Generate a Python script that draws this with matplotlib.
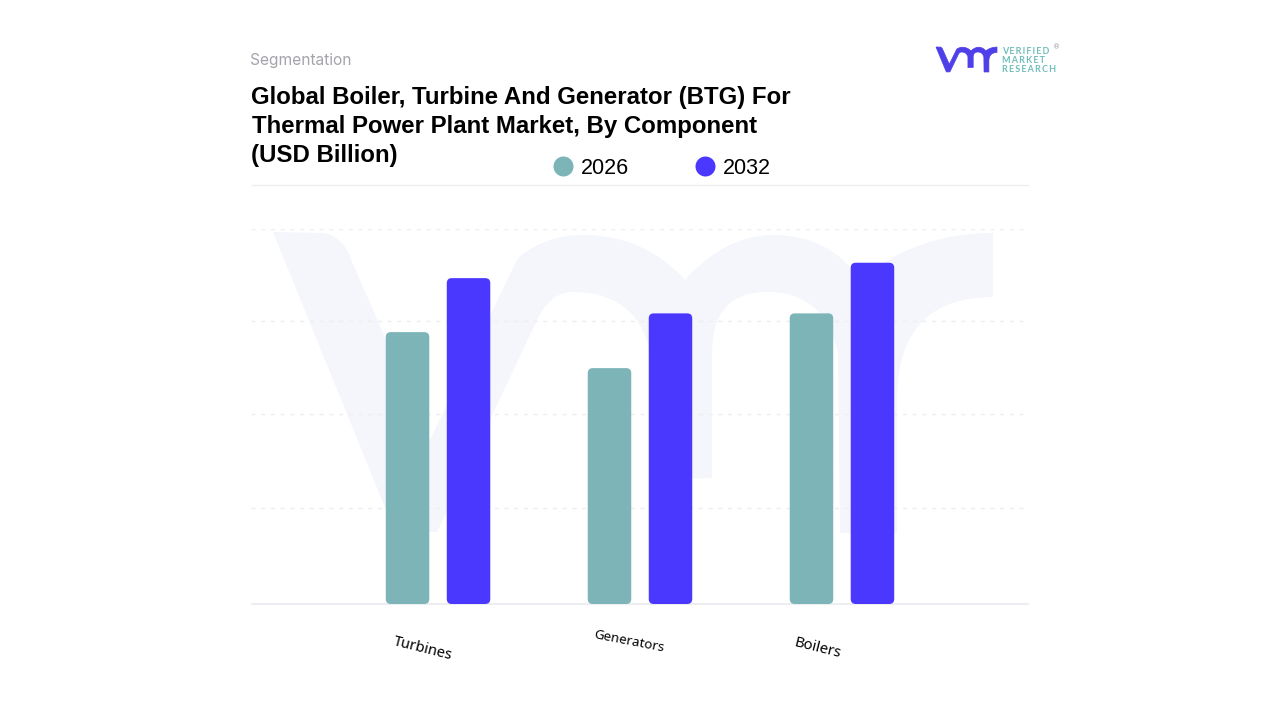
import matplotlib
matplotlib.use('Agg')
import matplotlib.pyplot as plt
from matplotlib.lines import Line2D
from matplotlib.patches import FancyBboxPatch, PathPatch
from matplotlib.path import Path
from matplotlib.transforms import Affine2D

# values (no y labels in the original, so units are arbitrary)
categories = ['Turbines', 'Generators', 'Boilers']
years = ['2026', '2032']
values_2026 = [7.25, 6.29, 7.75]
values_2032 = [8.69, 7.75, 9.10]
grid_levels = [2.56, 5.07, 7.55, 10]

title_lines = ['Global Boiler, Turbine And Generator (BTG) For',
               'Thermal Power Plant Market, By Component',
               '(USD Billion)']
logo_lines = ['VERIFIED', 'MARKET', 'RESEARCH']

TEAL = '#7cb4b8'
BLUE = '#4a38ff'
W, H = 1280, 720

fig = plt.figure(figsize=(12.8, 7.2), dpi=100, facecolor='white')

# background layer in pixel coords: logo + watermark
bg = fig.add_axes([0, 0, 1, 1], zorder=0)
bg.set_xlim(0, W)
bg.set_ylim(H, 0)
bg.axis('off')

M, L, C3 = Path.MOVETO, Path.LINETO, Path.CURVE3
vmr_steps = [
    (M, 273, 232), (L, 325, 233), (C3, 345, 238), (C3, 352, 262),
    (L, 430, 440), (L, 518, 258), (C3, 545, 235), (C3, 583, 235),
    (C3, 645, 235), (C3, 685, 280), (C3, 725, 235), (C3, 773, 235),
    (C3, 830, 235), (C3, 860, 280), (C3, 915, 233), (C3, 993, 233),
    (L, 993, 297), (C3, 897, 297), (C3, 897, 400), (L, 897, 533),
    (L, 840, 533), (L, 838, 353), (C3, 825, 292), (C3, 767, 292),
    (C3, 712, 292), (C3, 712, 353), (L, 712, 478), (L, 650, 480),
    (L, 650, 350), (C3, 635, 292), (C3, 573, 292), (C3, 550, 292),
    (C3, 537, 320), (L, 437, 532), (L, 395, 532), (L, 273, 232),
]
vmr_path = Path([(x, y) for _, x, y in vmr_steps], [c for c, _, _ in vmr_steps])
bg.add_patch(PathPatch(vmr_path, facecolor='#f4f6fc', edgecolor='none'))

# same shape, small, for the logo
logo_tf = Affine2D().translate(-273, -232).scale(61 / 720, 25 / 301).translate(936, 47)
bg.add_patch(PathPatch(vmr_path.transformed(logo_tf), facecolor='#4f3fe8', edgecolor='#4f3fe8', lw=0.5))

for txt, y in zip(logo_lines, [52, 60.5, 69]):
    bg.text(1002, y, '\u2009'.join(txt), color='#6fbdb9', fontsize=6.5, family='Lato',
            fontweight='bold', va='center', ha='left')
bg.text(1057, 47.5, '®', color='#8f9aa0', fontsize=5, va='center', ha='center')

bg.text(250, 60, 'Segmentation', color='#a3a3ab', fontsize=11.2, family='Inter', va='center')
for txt, x, y in zip(title_lines, [251, 252, 251], [104, 133, 162]):
    bg.text(x, y, txt, color='black', fontsize=17.3, family='Liberation Sans',
            fontweight='bold', va='baseline')
bg.plot([251, 1029], [185, 185], color='#eeeeee', lw=1, solid_capstyle='butt')

# chart
ax = fig.add_axes([251 / W, 1 - 604 / H, 778 / W, 375 / H], zorder=1)
ax.patch.set_alpha(0)
ax.set_xlim(-0.926, 2.926)
ax.set_ylim(0, 10)
for s in ax.spines.values():
    s.set_visible(False)
ax.tick_params(length=0, labelleft=False, labelbottom=False)
ax.set_yticks(grid_levels)
ax.grid(axis='y', color='#eeeef0', linestyle=(0, (3, 4)), lw=1)
ax.set_axisbelow(True)
ax.axhline(0, color='#eceef1', lw=1.5, clip_on=False, zorder=1, solid_capstyle='butt')

# bars first, then swap them for rounded patches of the same geometry
bar_w = 43.5 / 202
offset = 30.5 / 202
xs = range(len(categories))
bars_a = ax.bar([x - offset for x in xs], values_2026, bar_w, color=TEAL)
bars_b = ax.bar([x + offset for x in xs], values_2032, bar_w, color=BLUE)

radius = 5 / 202           # 5 px in x units
aspect = (10 / 375) / (1 / 202)
for bars in (bars_a, bars_b):
    for b in bars:
        b.set_visible(False)
        ax.add_patch(FancyBboxPatch((b.get_x(), b.get_y()), b.get_width(), b.get_height(),
                                    boxstyle=f'round,pad=0,rounding_size={radius}',
                                    mutation_aspect=aspect,
                                    facecolor=b.get_facecolor(), edgecolor='none', zorder=3))

# category labels sit off-centre and tilted in the original
label_dx = [-15, -11, -24]
label_dy = [-45, -37, -44]
label_rot = [-14, -11, -14]
label_size = [10.5, 9.7, 10.7]
for i, name in enumerate(categories):
    ax.annotate(name, xy=(i, 0), xytext=(label_dx[i], label_dy[i]), textcoords='offset pixels',
                ha='center', va='center', rotation=label_rot[i], fontsize=label_size[i],
                family='Noto Sans', color='black', annotation_clip=False)

handles = [Line2D([], [], ls='', marker='o', ms=14.4, mfc=c, mec='none') for c in (TEAL, BLUE)]
fig.legend(handles, years, loc='center left', bbox_to_anchor=(552 / W, 1 - 168.5 / H), ncol=2,
           frameon=False, prop={'family': 'Liberation Sans', 'size': 15.5},
           handlelength=1, handletextpad=0.36, columnspacing=3.0, borderpad=0, borderaxespad=0)

fig.savefig('out.png', dpi=100)
